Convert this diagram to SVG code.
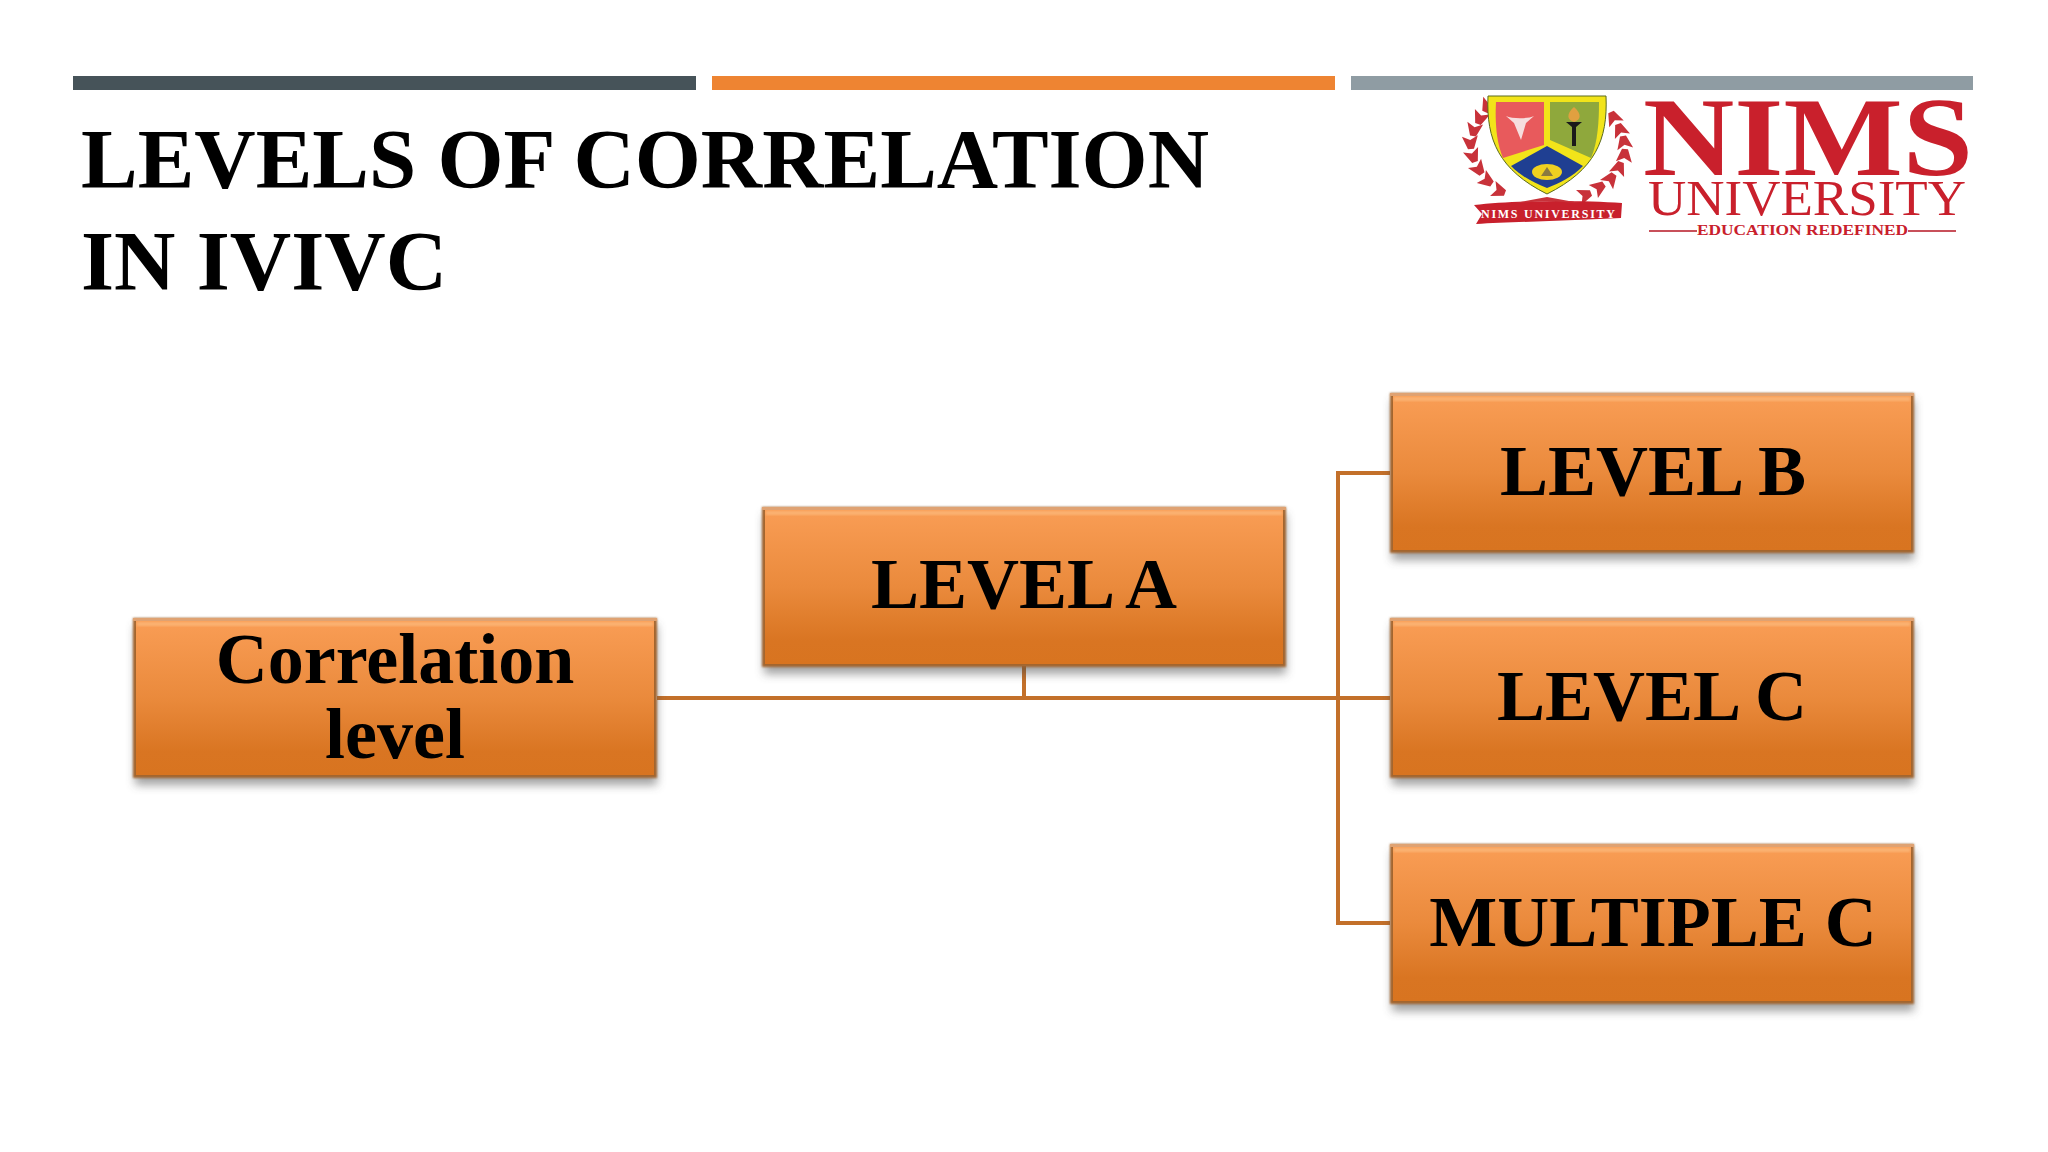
<svg xmlns="http://www.w3.org/2000/svg" width="2048" height="1152" viewBox="0 0 2048 1152">
<defs>
<linearGradient id="g" x1="0" y1="0" x2="0" y2="1"><stop offset="0" stop-color="#f99d55"/><stop offset="0.5" stop-color="#ea8a3c"/><stop offset="0.85" stop-color="#d97522"/><stop offset="1" stop-color="#d87420"/></linearGradient>
<filter id="s" x="-5%" y="-15%" width="110%" height="140%"><feGaussianBlur stdDeviation="5"/></filter>
<filter id="soft" x="-2%" y="-5%" width="104%" height="110%"><feGaussianBlur stdDeviation="0.8"/></filter>
<g id="box">
<rect x="2" y="7" width="522" height="160" fill="#444" opacity="0.5" filter="url(#s)"/>
<rect width="524" height="160" fill="#a3652e" filter="url(#soft)"/>
<rect y="0" width="524" height="3" fill="#dfa272"/>
<rect x="3" y="3" width="518" height="154" fill="url(#g)"/>
<rect x="4" y="4" width="516" height="4" fill="#fbb272" filter="url(#soft)"/>
</g>
<path id="leaf" d="M0 -3 L13 -8 L9 0 L13 8 L0 3 Z" fill="#c8323a"/>
</defs>
<style>
.title{font:bold 85px "Liberation Serif",serif;fill:#000}
.lbl{font:bold 72px "Liberation Serif",serif;fill:#000;text-anchor:middle}
.conn{fill:none;stroke:#c3702a;stroke-width:4}
.logo{font-family:"Liberation Serif",serif;fill:#c9202c}
</style>
<rect width="2048" height="1152" fill="#fff"/>
<g id="bars">
<rect x="73" y="76" width="623" height="14" fill="#465359"/>
<rect x="712" y="76" width="623" height="14" fill="#ee8432"/>
<rect x="1351" y="76" width="622" height="14" fill="#8f9ca3"/>
</g>
<g id="title">
<text class="title" x="81" y="188" textLength="1128" lengthAdjust="spacingAndGlyphs">LEVELS OF CORRELATION</text>
<text class="title" x="81" y="290">IN IVIVC</text>
</g>
<g id="logo">
<g id="wreath">
<use href="#leaf" transform="translate(1485 112) rotate(-65)"/>
<use href="#leaf" transform="translate(1478 124) rotate(-70)"/>
<use href="#leaf" transform="translate(1473 136) rotate(-80)"/>
<use href="#leaf" transform="translate(1471 149) rotate(-95)"/>
<use href="#leaf" transform="translate(1475 162) rotate(-110)"/>
<use href="#leaf" transform="translate(1482 174) rotate(-125)"/>
<use href="#leaf" transform="translate(1492 184) rotate(-145)"/>
<use href="#leaf" transform="translate(1505 193) rotate(-160)"/>
<use href="#leaf" transform="translate(1611 112) rotate(65)"/>
<use href="#leaf" transform="translate(1618 124) rotate(70)"/>
<use href="#leaf" transform="translate(1623 136) rotate(80)"/>
<use href="#leaf" transform="translate(1625 149) rotate(95)"/>
<use href="#leaf" transform="translate(1621 162) rotate(110)"/>
<use href="#leaf" transform="translate(1614 174) rotate(125)"/>
<use href="#leaf" transform="translate(1604 184) rotate(145)"/>
<use href="#leaf" transform="translate(1591 193) rotate(160)"/>
</g>
<path d="M1488 96 H1606 C1608 140 1595 170 1547 194 C1499 170 1486 140 1488 96 Z" fill="#f2e41a" stroke="#5a6a20" stroke-width="1"/>
<path d="M1496 102 H1544 V145 L1503 158 C1496 142 1495 120 1496 102 Z" fill="#e85a5c"/>
<path d="M1550 102 H1599 C1599 120 1598 142 1591 158 L1550 140 Z" fill="#8fa83c"/>
<path d="M1547 146 L1583 166 C1572 177 1560 183 1547 188 C1534 183 1522 177 1511 166 Z" fill="#1f3f92"/>
<ellipse cx="1547" cy="172" rx="15" ry="8" fill="#f0d020"/>
<path d="M1547 167 L1541 176 H1553 Z" fill="#8a7a40"/>
<path d="M1506 116 C1512 119 1528 119 1534 116 L1526 123 L1521 140 L1514 123 Z" fill="#f6dede"/>
<path d="M1566 122 H1582 L1576 127 V146 H1572 V127 Z" fill="#1a1a1a"/>
<path d="M1574 107 C1566 114 1567 120 1574 122 C1581 120 1582 114 1574 107 Z" fill="#e0a040"/>
<path d="M1474 205 C1515 200 1580 200 1622 203 L1621 218 C1580 220 1515 222 1476 224 L1482 214 Z" fill="#c8202c"/>
<path d="M1515 203 L1547 197 L1580 203 L1547 201 Z" fill="#c8323a"/>
<text x="1481" y="218" font-family="Liberation Serif,serif" font-weight="bold" font-size="12" fill="#fff" textLength="134" lengthAdjust="spacing">NIMS UNIVERSITY</text>
<text class="logo" x="1643" y="175" font-size="113" font-weight="bold" textLength="330" lengthAdjust="spacingAndGlyphs">NIMS</text>
<text class="logo" x="1648" y="215" font-size="50" fill="#b8303c" textLength="318" lengthAdjust="spacingAndGlyphs">UNIVERSITY</text>
<text class="logo" x="1697" y="235" font-size="15" font-weight="bold" fill="#b8404a" textLength="211" lengthAdjust="spacingAndGlyphs">EDUCATION REDEFINED</text>
<path d="M1649 231 H1697 M1908 231 H1956" stroke="#c8505a" stroke-width="2"/>
</g>
<g id="connectors">
<path class="conn" d="M657 698 H1390"/>
<path class="conn" d="M1024 666 V698"/>
<path class="conn" d="M1390 473 H1338 V923 H1390"/>
</g>
<g id="node-correlation"><use href="#box" x="133" y="618"/>
<text class="lbl" x="395" y="683">Correlation</text><text class="lbl" x="395" y="758">level</text></g>
<g id="node-a"><use href="#box" x="762" y="507"/><text class="lbl" x="1024" y="608">LEVEL A</text></g>
<g id="node-b"><use href="#box" x="1390" y="393"/><text class="lbl" x="1653" y="495">LEVEL B</text></g>
<g id="node-c"><use href="#box" x="1390" y="618"/><text class="lbl" x="1652" y="720">LEVEL C</text></g>
<g id="node-mc"><use href="#box" x="1390" y="844"/><text class="lbl" x="1653" y="946">MULTIPLE C</text></g>
</svg>
